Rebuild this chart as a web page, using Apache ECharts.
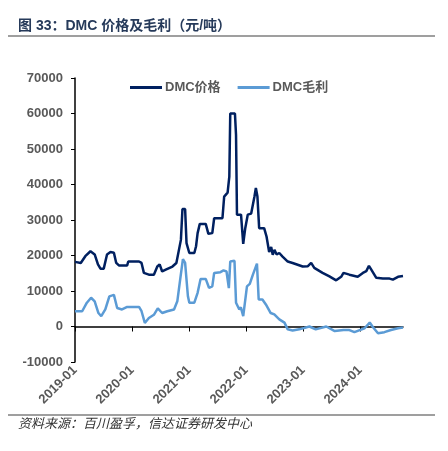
<!DOCTYPE html>
<html>
<head>
<meta charset="utf-8">
<script src="https://cdn.jsdelivr.net/npm/echarts@6/dist/echarts.min.js"></script>
<style>
html, body { margin: 0; padding: 0; background: #fff; }
#chart { width: 448px; height: 451px; }
</style>
</head>
<body>
<div id="chart"></div>
<script>
// DMC price, yuan/ton
const priceDates = [
  '2019-01-01','2019-02-07','2019-03-08','2019-04-10','2019-05-07','2019-05-28','2019-06-13','2019-07-04',
  '2019-07-25','2019-08-16','2019-09-07','2019-09-22','2019-10-09','2019-12-01','2019-12-08','2020-02-15',
  '2020-03-02','2020-03-17','2020-04-18','2020-05-20','2020-06-11','2020-06-26','2020-07-12','2020-08-04',
  '2020-09-16','2020-10-11','2020-10-17','2020-11-09','2020-11-19','2020-12-06','2020-12-15','2021-01-02',
  '2021-02-03','2021-02-14','2021-02-24','2021-03-10','2021-04-17','2021-05-04','2021-05-29','2021-06-10',
  '2021-08-02','2021-08-13','2021-09-04','2021-09-15','2021-09-21','2021-10-21','2021-10-28','2021-11-03',
  '2021-11-29','2021-12-13','2021-12-26','2022-01-11','2022-02-02','2022-02-23','2022-03-04','2022-03-14',
  '2022-03-25','2022-04-26','2022-05-11','2022-05-28','2022-06-10','2022-06-20','2022-07-01','2022-07-15',
  '2022-08-01','2022-08-22','2022-09-24','2022-10-25','2022-12-29','2023-01-31','2023-02-21','2023-03-13',
  '2023-05-05','2023-06-18','2023-07-31','2023-09-01','2023-09-16','2023-10-24','2023-12-16','2024-01-18',
  '2024-02-09','2024-02-26','2024-03-11','2024-04-13','2024-05-25','2024-07-07','2024-07-28','2024-08-30',
  '2024-10-01'
]
const priceValues = [
  18200, 17900, 19800, 21200, 20300, 17500, 16300, 16300,
  20300, 21000, 20800, 17900, 17200, 17200, 18300, 18300,
  17900, 15100, 14600, 14600, 16900, 17500, 15500, 16000,
  16900, 17900, 18300, 24400, 33100, 33100, 23500, 20700,
  20700, 22600, 26300, 28900, 28900, 26100, 26300, 30500,
  30500, 36600, 37700, 42200, 60000, 60000, 53900, 31500,
  31500, 23300, 27700, 31500, 31800, 36600, 39000, 36600,
  27700, 27700, 25400, 21000, 22400, 20200, 21600, 20300,
  20700, 19700, 18300, 17900, 16900, 17000, 17900, 16500,
  15100, 14100, 13000, 14000, 15100, 14600, 14000, 15100,
  15600, 17100, 16100, 13700, 13500, 13500, 13200, 14000,
  14200
]

// DMC gross margin, yuan/ton
const marginDates = [
  '2019-01-01','2019-02-16','2019-03-18','2019-04-14','2019-05-07','2019-05-31','2019-06-18','2019-07-14',
  '2019-08-09','2019-09-07','2019-09-28','2019-10-29','2019-12-01','2020-02-15','2020-03-02','2020-03-23',
  '2020-04-18','2020-05-20','2020-06-14','2020-07-12','2020-08-14','2020-09-26','2020-10-17','2020-11-07',
  '2020-11-22','2020-12-06','2020-12-24','2021-01-02','2021-02-03','2021-02-24','2021-03-15','2021-04-17',
  '2021-05-08','2021-05-29','2021-06-10','2021-07-20','2021-08-09','2021-08-28','2021-09-12','2021-09-21',
  '2021-10-18','2021-10-28','2021-11-18','2021-11-28','2021-12-13','2022-01-06','2022-01-24','2022-02-13',
  '2022-03-11','2022-03-22','2022-04-15','2022-05-07','2022-06-07','2022-06-30','2022-08-01','2022-09-03',
  '2022-09-24','2022-10-25','2022-12-07','2023-02-10','2023-03-22','2023-05-29','2023-07-22','2023-09-16',
  '2023-10-24','2023-11-25','2023-12-29','2024-01-29','2024-03-02','2024-03-23','2024-04-24','2024-06-04',
  '2024-07-16','2024-08-30','2024-10-01'
]
const marginValues = [
  4300, 4300, 6700, 8100, 7100, 3800, 2900, 4800,
  8500, 8900, 5200, 4800, 5500, 5500, 4300, 1000,
  2400, 3300, 5100, 3800, 4300, 4800, 7100, 14100,
  19000, 17900, 8500, 6700, 6700, 9500, 13400, 13400,
  10900, 11300, 15100, 15300, 15800, 15500, 10800, 18300,
  18500, 6700, 4800, 5400, 2900, 11300, 12000, 14600,
  17700, 7600, 7600, 6200, 3800, 3400, 2000, 1100,
  -800, -1100, -800, 0, -800, 0, -1300, -1000,
  -1000, -1600, -1000, -500, 1100, -200, -1900, -1600,
  -1000, -500, -300
]

const seriesNames = ['DMC价格', 'DMC毛利']
const seriesColors = ['#002060', '#5b9bd5']

const chart = echarts.init(document.getElementById('chart'))
const latin = '"Liberation Sans", Arial, "Noto Sans CJK SC", sans-serif'
const labelColor = '#595959'

function pairs(dates, values) {
  return dates.map((d, i) => [d, values[i]])
}

function ym(v) {
  const d = new Date(v)
  return d.getUTCFullYear() + '-' + String(d.getUTCMonth() + 1).padStart(2, '0')
}

const option = {
  animation: false,
  backgroundColor: '#fff',
  title: {
    text: '图 33：DMC 价格及毛利（元/吨）',
    left: 13,
    top: 14,
    textStyle: { fontFamily: latin, fontSize: 14, fontWeight: 'bold', color: '#263a5a' }
  },
  legend: {
    left: 125,
    top: 76,
    itemWidth: 32,
    itemHeight: 3,
    itemGap: 17,
    icon: 'rect',
    textStyle: { fontFamily: latin, fontSize: 13, fontWeight: 'bold', color: labelColor, padding: [0, 0, 0, -2] },
    data: seriesNames
  },
  grid: { left: 75, right: 45, top: 78, bottom: 89, containLabel: false },
  xAxis: {
    type: 'time',
    min: '2019-01-01',
    max: '2024-10-01',
    minInterval: 365 * 24 * 3600 * 1000,
    splitNumber: 6,
    axisLine: { onZero: true, lineStyle: { color: '#000', width: 1.5 } },
    axisTick: { show: true, length: 5, lineStyle: { color: '#000', width: 1 } },
    axisLabel: {
      rotate: 45,
      showMaxLabel: false,
      fontFamily: latin, fontSize: 13, fontWeight: 'bold', color: labelColor,
      margin: 6,
      formatter: ym
    },
    splitLine: { show: false }
  },
  yAxis: {
    type: 'value',
    min: -10000,
    max: 70000,
    interval: 10000,
    axisLine: { show: true, lineStyle: { color: '#000', width: 1.5 } },
    axisTick: { show: true, length: 4, lineStyle: { color: '#000', width: 1 } },
    axisLabel: {
      fontFamily: latin, fontSize: 13, fontWeight: 'bold', color: labelColor, margin: 12,
      formatter: v => String(v)
    },
    splitLine: { show: false }
  },
  series: [
    {
      name: seriesNames[0],
      type: 'line',
      showSymbol: false,
      data: pairs(priceDates, priceValues),
      lineStyle: { color: seriesColors[0], width: 2.5 },
      itemStyle: { color: seriesColors[0] }
    },
    {
      name: seriesNames[1],
      type: 'line',
      showSymbol: false,
      data: pairs(marginDates, marginValues),
      lineStyle: { color: seriesColors[1], width: 2.5 },
      itemStyle: { color: seriesColors[1] }
    }
  ],
  graphic: [
    { type: 'line', shape: { x1: 8, y1: 36, x2: 435, y2: 36 }, style: { stroke: '#7f7f7f', lineWidth: 1.5 } },
    { type: 'line', shape: { x1: 8, y1: 415, x2: 435, y2: 415 }, style: { stroke: '#7f7f7f', lineWidth: 1.5 } },
    {
      type: 'text', left: 18, top: 417,
      style: {
        text: '资料来源：百川盈孚，信达证券研发中心',
        font: 'italic 13px "Noto Sans CJK SC", sans-serif',
        fill: '#333'
      }
    }
  ]
}

chart.setOption(option)
</script>
</body>
</html>
